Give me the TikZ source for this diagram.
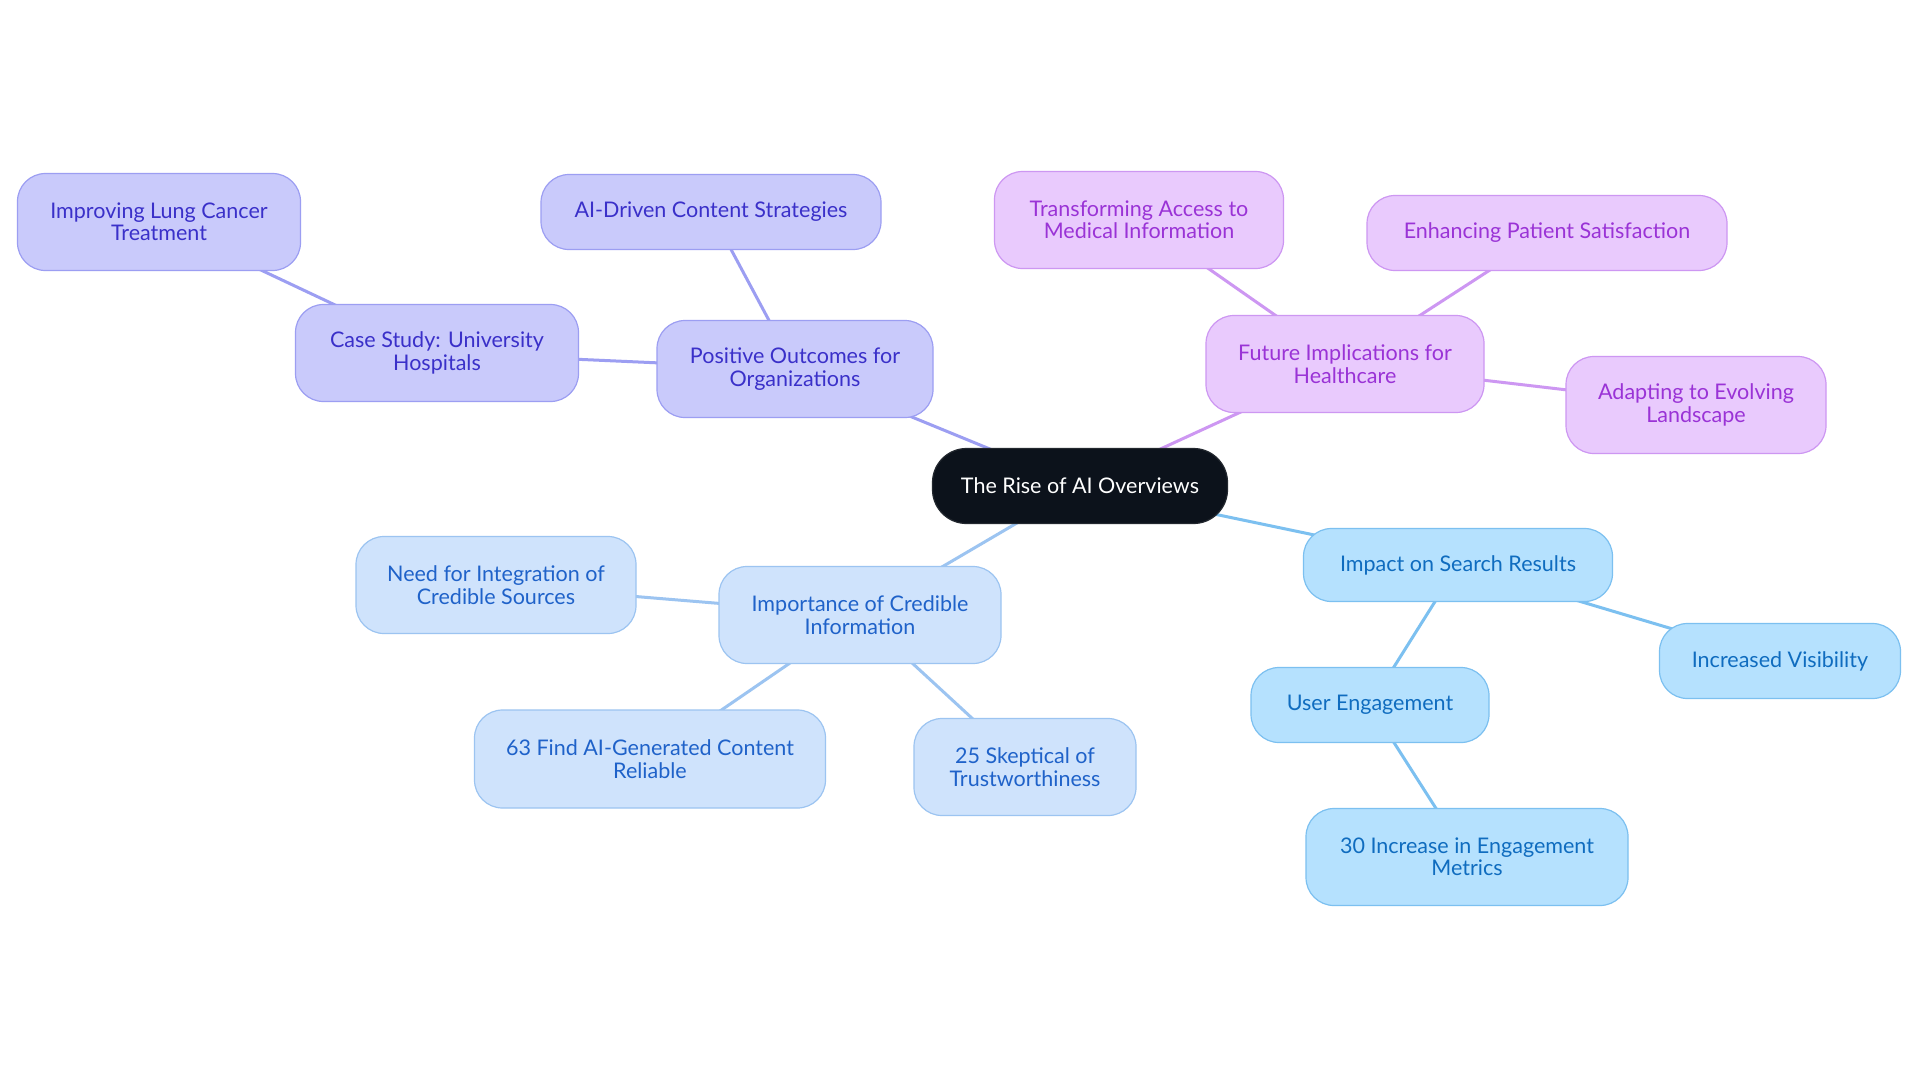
\documentclass[tikz,border=0pt]{standalone}
\usepackage{fontspec}
\setmainfont{Lato}
\usetikzlibrary{backgrounds}
\definecolor{aFill}{HTML}{C9CAFB}
\definecolor{aLine}{HTML}{9C9EF2}
\definecolor{aText}{HTML}{3A30C9}
\definecolor{bFill}{HTML}{E9CAFD}
\definecolor{bLine}{HTML}{CD97F2}
\definecolor{bText}{HTML}{9A33D6}
\definecolor{cFill}{HTML}{CFE3FC}
\definecolor{cLine}{HTML}{9CC4F1}
\definecolor{cText}{HTML}{1F62C9}
\definecolor{dFill}{HTML}{B5E1FE}
\definecolor{dLine}{HTML}{7CC0F0}
\definecolor{dText}{HTML}{0F6CBF}
\definecolor{rootFill}{HTML}{0C121B}
\tikzset{
  base/.style={rounded corners=28bp, align=center, inner sep=0pt,
    font=\fontsize{21.6}{22.5}\selectfont, line width=1.2bp},
  grpA/.style={base, fill=aFill, draw=aLine, text=aText},
  grpB/.style={base, fill=bFill, draw=bLine, text=bText},
  grpC/.style={base, fill=cFill, draw=cLine, text=cText},
  grpD/.style={base, fill=dFill, draw=dLine, text=dText},
  rootbox/.style={base, rounded corners=34bp, fill=rootFill, draw=rootFill!80!gray, text=white},
  linkA/.style={draw=aLine, line width=3bp},
  linkB/.style={draw=bLine, line width=3bp},
  linkC/.style={draw=cLine, line width=3bp},
  linkD/.style={draw=dLine, line width=3bp},
  sz/.style 2 args={minimum width=#1bp, minimum height=#2bp}
}
\begin{document}
\begin{tikzpicture}[x=1bp,y=-1bp]
\useasboundingbox (0,0) rectangle (1920,1083);
% root
\node[rootbox, sz={295}{75}] (root) at (1080,486) {The Rise of AI Overviews};
% group A
\node[grpA, sz={276}{97}] (po) at (795,369) {Positive Outcomes for\\Organizations};
\node[grpA, sz={340}{75}] (ai) at (711,212) {AI-Driven Content Strategies};
\node[grpA, sz={283}{97}] (cs) at (437,353) {Case Study: University\\Hospitals};
\node[grpA, sz={283}{97}] (lc) at (159,222) {Improving Lung Cancer\\Treatment};
% group B
\node[grpB, sz={278}{97}] (fi) at (1345,364) {Future Implications for\\Healthcare};
\node[grpB, sz={289}{97}] (ta) at (1139,220) {Transforming Access to\\Medical Information};
\node[grpB, sz={360}{75}] (ep) at (1547,233) {Enhancing Patient Satisfaction};
\node[grpB, sz={260}{97}] (ad) at (1696,405) {Adapting to Evolving\\Landscape};
% group C
\node[grpC, sz={282}{97}] (ic) at (860,615) {Importance of Credible\\Information};
\node[grpC, sz={280}{97}] (ni) at (496,585) {Need for Integration of\\Credible Sources};
\node[grpC, sz={351}{98}] (sf) at (650,759) {63 Find AI-Generated Content\\Reliable};
\node[grpC, sz={222}{97}] (tf) at (1025,767) {25 Skeptical of\\Trustworthiness};
% group D
\node[grpD, sz={309}{73}] (is) at (1458,565) {Impact on Search Results};
\node[grpD, sz={241}{75}] (iv) at (1780,661) {Increased Visibility};
\node[grpD, sz={238}{75}] (ue) at (1370,705) {User Engagement};
\node[grpD, sz={322}{97}] (ie) at (1467,857) {30 Increase in Engagement\\Metrics};
% connectors
\begin{scope}[on background layer]
\fill[white] (0,0) rectangle (1920,1083);
\draw[linkA] (root.center) -- (po.center);
\draw[linkA] (po.center) -- (ai.center);
\draw[linkA] (po.center) -- (cs.center);
\draw[linkA] (cs.center) -- (lc.center);
\draw[linkB] (root.center) -- (fi.center);
\draw[linkB] (fi.center) -- (ta.center);
\draw[linkB] (fi.center) -- (ep.center);
\draw[linkB] (fi.center) -- (ad.center);
\draw[linkC] (root.center) -- (ic.center);
\draw[linkC] (ic.center) -- (ni.center);
\draw[linkC] (ic.center) -- (sf.center);
\draw[linkC] (ic.center) -- (tf.center);
\draw[linkD] (root.center) -- (is.center);
\draw[linkD] (is.center) -- (iv.center);
\draw[linkD] (is.center) -- (ue.center);
\draw[linkD] (ue.center) -- (ie.center);
\end{scope}
\end{tikzpicture}
\end{document}
